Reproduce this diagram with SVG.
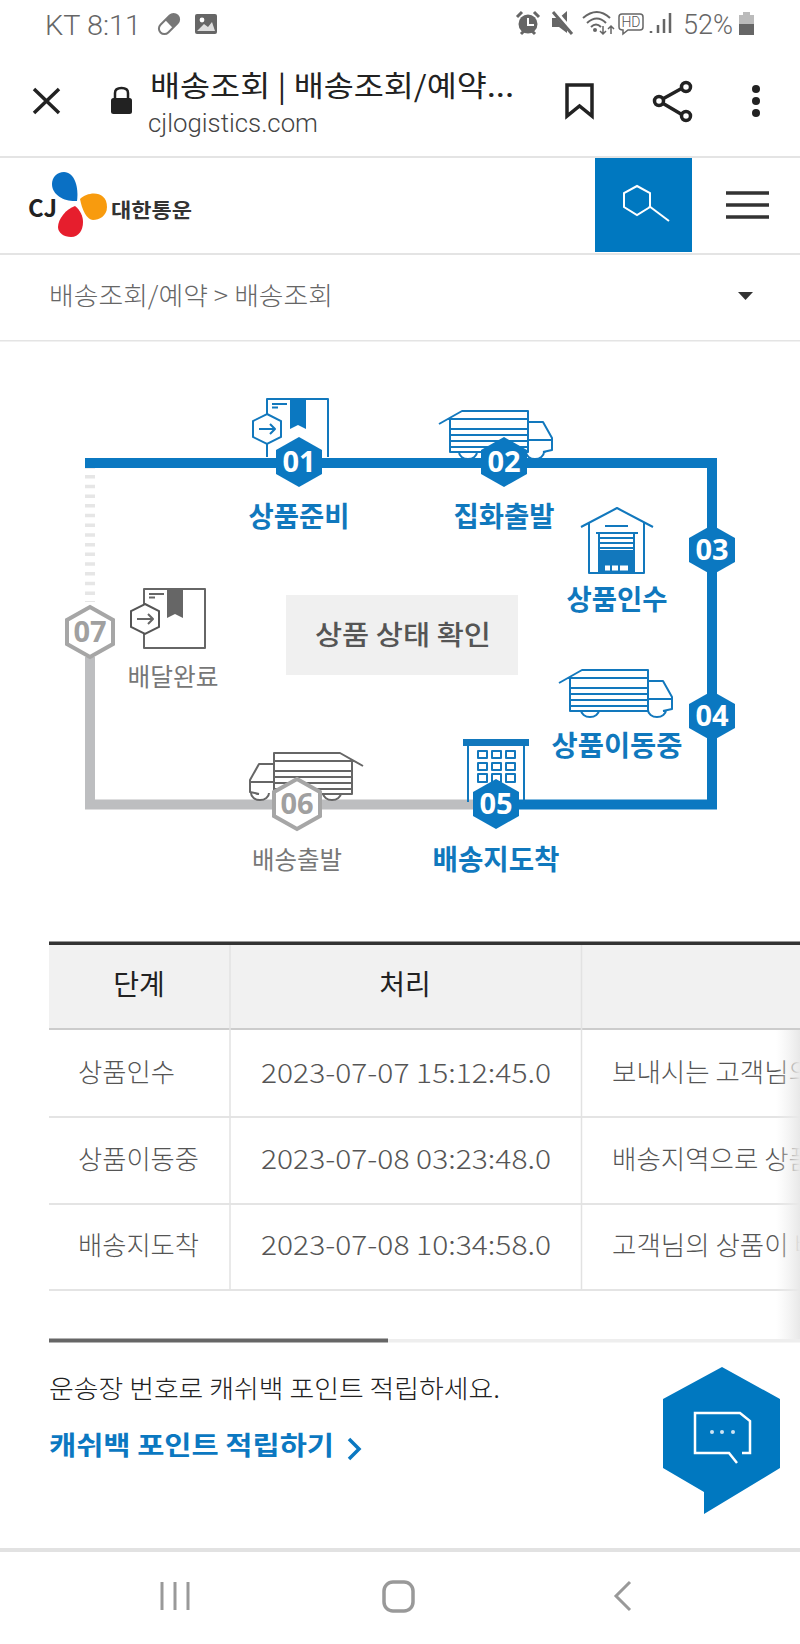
<svg xmlns="http://www.w3.org/2000/svg" width="800" height="1644" viewBox="0 0 800 1644">
<style>
text{font-family:"Noto Sans CJK KR","Noto Sans",sans-serif}
.r{font-family:Roboto,"Noto Sans CJK KR",sans-serif;font-weight:300}
.lb{font-size:28px;font-weight:700;fill:#1078bd;text-anchor:middle}
.lg{font-size:25px;font-weight:400;fill:#777;text-anchor:middle}
.hn{font-family:"Noto Sans",Roboto,sans-serif;font-size:29px;font-weight:700;fill:#fff;text-anchor:middle}
.hb{fill:#0b78c1}
.hw{fill:#fff;stroke:#a6a6a6;stroke-width:4}
.ib{fill:none;stroke:#1278bd;stroke-width:2;stroke-linejoin:round}
.ig{fill:none;stroke:#666;stroke-width:2;stroke-linejoin:round}
.div{fill:#e4e4e4}
.td{font-size:25.5px;font-weight:300;fill:#555}
.tl{font-size:26.5px;font-weight:300;fill:#555}
.th{font-size:28px;font-weight:400;fill:#222;text-anchor:middle}
.dt{font-size:27px;font-weight:300;fill:#555}
</style>
<defs>
<polygon id="hex" points="0,-25 23,-12 23,12 0,25 -23,12 -23,-12"/>
<polygon id="hex-s" points="0,-15 14,-8 14,8 0,15 -14,8 -14,-8"/>
<linearGradient id="fade" x1="0" x2="1" y1="0" y2="0"><stop offset="0" stop-color="#eee" stop-opacity="0"/><stop offset="1" stop-color="#e8e8e8"/></linearGradient>
<clipPath id="tc"><rect x="581" y="1030" width="219" height="262"/></clipPath>
<path id="truck" d="M-51,13 L-28,0 H38 V41 H-40 V7 M-40,18 H38 M-40,24 H38 M-40,30 H38 M-40,36 H38 M-40,8 H38 M38,11 H53 L62,27 V39 L53,41 M38,29 H62 M-40,41 H-28 M-12,41 H38 M53,41 H56"/>
</defs>
<rect width="800" height="1644" fill="#fff"/>

<g id="status-bar">
<text class="r" x="45" y="35" font-size="27" fill="#666" textLength="96" lengthAdjust="spacingAndGlyphs">KT 8:11</text>
<g transform="rotate(-45 169 24)"><rect x="157" y="18.500" width="24" height="11" rx="5.500" fill="#fff" stroke="#777" stroke-width="2"/><path d="M169,18.500 H175.500 A5.500,5.500 0 0 1 175.500,29.500 H169 Z" fill="#777"/></g>
<rect x="195" y="14" width="22" height="20" rx="2" fill="#666"/>
<circle cx="202" cy="20" r="2.400" fill="#fff"/><path d="M197,31 L204,24 L208,27 L212,22 L215,31 Z" fill="#ddd"/>
<circle cx="528" cy="24" r="9.500" fill="#666"/><path d="M517,17 L522,12 M539,17 L534,12 M521,34 L524,31 M535,34 L532,31" stroke="#666" stroke-width="3"/><path d="M528,18 V25 H534" stroke="#fff" stroke-width="2" fill="none"/>
<path d="M552,18 H559 L567,11 V33 L559,27 H552 Z" fill="#666"/><path d="M555,12 L574,34" stroke="#fff" stroke-width="5"/><path d="M553,12 L572,34" stroke="#666" stroke-width="3"/>
<path d="M583,18 Q597,6 610,18 M587,23 Q597,14 606,23 M591,27 Q596,22 601,27" fill="none" stroke="#666" stroke-width="2"/><circle cx="595" cy="30" r="2" fill="#666"/>
<path d="M603,26 V34 M600,31 L603,34 L606,31 M611,34 V26 M608,29 L611,26 L614,29" fill="none" stroke="#666" stroke-width="1.500"/>
<path d="M622,14 H640 Q643,14 643,17 V27 Q643,30 640,30 H628 L623,34 V30 Q619,30 619,27 V17 Q619,14 622,14 Z" fill="none" stroke="#666" stroke-width="1.500"/>
<text class="r" x="631" y="27" font-size="14" font-weight="500" fill="#555" text-anchor="middle">HD</text>
<path d="M651,31 V33 M658,25 V33 M664,19 V33 M670,13 V33" stroke="#666" stroke-width="2.500"/>
<text class="r" x="683" y="34" font-size="27" fill="#666" textLength="50" lengthAdjust="spacingAndGlyphs">52%</text>
<rect x="743" y="12" width="7" height="3" fill="#bbb"/><rect x="739" y="15" width="15" height="9" fill="#bbb"/><rect x="739" y="24" width="15" height="11" fill="#666"/>
</g>

<g id="browser-bar">
<path d="M34,89 L59,113 M59,89 L34,113" stroke="#222" stroke-width="3.500" fill="none"/>
<rect x="111" y="98" width="21" height="16" rx="2.500" fill="#222"/><path d="M115,98 V93 Q115,88 121.500,88 Q128,88 128,93 V98" fill="none" stroke="#222" stroke-width="2.500"/>
<text x="150" y="97" font-size="29" font-weight="400" fill="#222" textLength="364" lengthAdjust="spacingAndGlyphs">배송조회 | 배송조회/예약...</text>
<text class="r" x="148" y="132" font-size="26" font-weight="400" fill="#444" textLength="170" lengthAdjust="spacingAndGlyphs">cjlogistics.com</text>
<path d="M567,85 H592 V116 L579.500,106 L567,116 Z" fill="none" stroke="#222" stroke-width="3.500"/>
<path d="M686,86 L659,101 L686,117" fill="none" stroke="#222" stroke-width="3.500"/>
<circle cx="686" cy="87" r="4.500" fill="#fff" stroke="#222" stroke-width="3.500"/><circle cx="659" cy="101" r="4.500" fill="#fff" stroke="#222" stroke-width="3.500"/><circle cx="686" cy="116" r="4.500" fill="#fff" stroke="#222" stroke-width="3.500"/>
<circle cx="756" cy="89" r="4" fill="#222"/><circle cx="756" cy="101" r="4" fill="#222"/><circle cx="756" cy="113" r="4" fill="#222"/>
<rect class="div" y="156" width="800" height="2"/>
</g>

<g id="site-header">
<path d="M64,172 C74,172 79,186 77,201 C66,202 52,196 52,184 C52,177 57,172 64,172 Z" fill="#0a70c4"/>
<path d="M80,199 C88,191 107,190 107,207 C107,216 99,220 93,220 C87,220 82,210 80,199 Z" fill="#f89b0e"/>
<path d="M75,206 C66,209 58,219 58,227 C58,233 64,237 71,237 C79,237 83,230 83,222 C83,216 80,210 75,206 Z" fill="#e61e2d"/>
<text x="28" y="217" font-size="24" font-weight="700" fill="#222" textLength="29" lengthAdjust="spacingAndGlyphs">CJ</text>
<text x="111" y="218" font-size="20" font-weight="700" fill="#333" textLength="81" lengthAdjust="spacingAndGlyphs">대한통운</text>
<rect x="595" y="158" width="97" height="94" fill="#0078c0"/>
<polygon points="637,186 650,193 650,207 637,215 624,207 624,193" fill="none" stroke="#fff" stroke-width="2"/>
<path d="M649,206 L669,221" stroke="#fff" stroke-width="2"/>
<path d="M726,193 H769 M726,205 H769 M726,217 H769" stroke="#333" stroke-width="3.500"/>
<rect class="div" y="253" width="800" height="2"/>
<text x="49" y="305" font-size="25.500" font-weight="300" fill="#666" textLength="284" lengthAdjust="spacingAndGlyphs">배송조회/예약 &gt; 배송조회</text>
<polygon points="738,292 753,292 745.500,300" fill="#333"/>
<rect class="div" y="340" width="800" height="1.500"/>
</g>

<g id="connectors">
<path d="M90,463 V602" stroke="#e6e6e6" stroke-width="10" stroke-dasharray="3.500 6.200" stroke-dashoffset="-12" fill="none"/>
<path d="M90,657 V804.500 H496" stroke="#bdbec0" stroke-width="10" fill="none"/>
<path d="M496,804.500 H712 V463 H85" stroke="#0b78c1" stroke-width="10" fill="none"/>
</g>

<g id="node-01">
<path class="ib" d="M267,457 V399 H328 V457"/>
<polygon points="290,399 306,399 306,429 298,425 290,429" fill="#0b78c1"/>
<path class="ib" d="M272,404 H287 M272,407.500 H278"/>
<use href="#hex-s" transform="translate(267,429)" fill="#fff" stroke="#1278bd" stroke-width="2"/>
<path class="ib" d="M259,429 H275 M270,424 L275,429 L270,434"/>
<use href="#hex" transform="translate(299,462)" class="hb"/>
<text class="hn" x="299" y="472">01</text>
<text class="lb" x="299" y="527" textLength="101" lengthAdjust="spacingAndGlyphs">상품준비</text>
</g>

<g id="node-02">
<use href="#truck" transform="translate(490,411)" class="ib"/>
<path class="ib" d="M459,452 a9,7 0 0 0 18,0 M526,452 a9,7 0 0 0 18,0"/>
<use href="#hex" transform="translate(504,462)" class="hb"/>
<text class="hn" x="504" y="472">02</text>
<text class="lb" x="504" y="527" textLength="101" lengthAdjust="spacingAndGlyphs">집화출발</text>
</g>

<g id="node-03">
<path class="ib" d="M581,527 L617,508 L653,527 M589,523 V573 H644 V523 M605,526 H628 M596,533 H638"/>
<rect x="599" y="533" width="35" height="40" fill="#fff" stroke="#1278bd" stroke-width="2"/>
<path class="ib" d="M599,538 H634 M599,543 H634 M599,548 H634"/>
<rect x="599" y="550" width="35" height="23" fill="#1278bd"/>
<path d="M605,568 H610 M612,568 H618 M620,568 H628" stroke="#fff" stroke-width="5"/>
<text class="lb" x="617" y="610" textLength="101" lengthAdjust="spacingAndGlyphs">상품인수</text>
<use href="#hex" transform="translate(712,550)" class="hb"/>
<text class="hn" x="712" y="560">03</text>
</g>

<g id="node-04">
<use href="#truck" transform="translate(610,670)" class="ib"/>
<path class="ib" d="M581,710 a9,7 0 0 0 18,0 M648,710 a9,7 0 0 0 18,0"/>
<text class="lb" x="617" y="756" textLength="131" lengthAdjust="spacingAndGlyphs">상품이동중</text>
<use href="#hex" transform="translate(712,716)" class="hb"/>
<text class="hn" x="712" y="726">04</text>
</g>

<g id="node-05">
<rect x="463" y="739" width="66" height="7" fill="#1278bd"/>
<path class="ib" d="M468,746 V802 M524,746 V802"/>
<g class="ib"><rect x="478" y="751" width="9" height="7"/><rect x="492" y="751" width="9" height="7"/><rect x="506" y="751" width="9" height="7"/><rect x="478" y="763" width="9" height="7"/><rect x="492" y="763" width="9" height="7"/><rect x="506" y="763" width="9" height="7"/><rect x="478" y="774" width="9" height="8"/><rect x="492" y="774" width="9" height="8"/><rect x="506" y="774" width="9" height="8"/></g>
<use href="#hex" transform="translate(496,804)" class="hb"/>
<text class="hn" x="496" y="814">05</text>
<text class="lb" x="496" y="870" textLength="127" lengthAdjust="spacingAndGlyphs">배송지도착</text>
</g>

<g id="node-06">
<use href="#truck" transform="translate(312,753) scale(-1,1)" class="ig"/>
<path class="ig" d="M251,793 a9,7 0 0 0 18,0 M323,793 a9,7 0 0 0 18,0"/>
<use href="#hex" transform="translate(297,804)" class="hw"/>
<text class="hn" x="297" y="814" style="fill:#a0a0a0">06</text>
<text class="lg" x="297" y="869" textLength="90" lengthAdjust="spacingAndGlyphs">배송출발</text>
</g>

<g id="node-07">
<path class="ig" d="M144,605 V589 H205 V648 H144 V633"/>
<polygon points="167,589 183,589 183,618 175,614 167,618" fill="#666"/>
<path class="ig" d="M149,594 H164 M149,597.500 H155"/>
<use href="#hex-s" transform="translate(145,619)" fill="#fff" stroke="#555" stroke-width="2"/>
<path class="ig" d="M137,619 H153 M148,614 L153,619 L148,624"/>
<use href="#hex" transform="translate(90,632)" class="hw"/>
<text class="hn" x="90" y="642" style="fill:#a0a0a0">07</text>
<text class="lg" x="173" y="686" textLength="91" lengthAdjust="spacingAndGlyphs">배달완료</text>
</g>

<g id="status-title">
<rect x="286" y="595" width="232" height="80" fill="#f0f0f0"/>
<text x="403" y="645" font-size="27" font-weight="500" fill="#555" text-anchor="middle" textLength="176" lengthAdjust="spacingAndGlyphs">상품 상태 확인</text>
</g>

<g id="table">
<rect x="49" y="945" width="751" height="84" fill="#f1f1f1"/>
<rect x="49" y="941.500" width="751" height="3.500" fill="#333"/>
<rect x="49" y="1028" width="751" height="2" fill="#ccc"/>
<path d="M49,1117 H800 M49,1204 H800 M49,1290 H800" stroke="#e4e4e4" stroke-width="2"/>
<path d="M230,945 V1290 M581.500,945 V1290" stroke="#e2e2e2" stroke-width="1.500"/>
<text class="th" x="139" y="995">단계</text>
<text class="th" x="405" y="995">처리</text>
<text class="tl" x="78" y="1082" textLength="97" lengthAdjust="spacingAndGlyphs">상품인수</text>
<text class="tl" x="78" y="1169" textLength="121" lengthAdjust="spacingAndGlyphs">상품이동중</text>
<text class="tl" x="78" y="1255" textLength="121" lengthAdjust="spacingAndGlyphs">배송지도착</text>
<text class="dt" x="261" y="1083" textLength="290" lengthAdjust="spacingAndGlyphs">2023-07-07 15:12:45.0</text>
<text class="dt" x="261" y="1169" textLength="290" lengthAdjust="spacingAndGlyphs">2023-07-08 03:23:48.0</text>
<text class="dt" x="261" y="1255" textLength="290" lengthAdjust="spacingAndGlyphs">2023-07-08 10:34:58.0</text>
<g clip-path="url(#tc)">
<text class="tl" x="612" y="1082">보내시는 고객님의</text>
<text class="tl" x="612" y="1169">배송지역으로 상품</text>
<text class="tl" x="612" y="1255">고객님의 상품이 배</text>
</g>
<rect x="776" y="1030" width="24" height="310" fill="url(#fade)"/>
<rect x="388" y="1339" width="412" height="3.500" fill="#eee"/>
<rect x="49" y="1338.500" width="339" height="4" fill="#666"/>
</g>

<g id="footer">
<text x="49" y="1398" font-size="25.500" font-weight="300" fill="#222" textLength="451" lengthAdjust="spacingAndGlyphs">운송장 번호로 캐쉬백 포인트 적립하세요.</text>
<text x="49" y="1455" font-size="26" font-weight="700" fill="#0b78c1" textLength="285" lengthAdjust="spacingAndGlyphs">캐쉬백 포인트 적립하기</text>
<path d="M349,1439 L359,1449 L349,1459" fill="none" stroke="#0b78c1" stroke-width="3.500"/>
</g>

<g id="chat-button">
<polygon points="722,1367 780,1399 780,1468 704,1514 704,1492 663,1468 663,1399" fill="#0078c0"/>
<path d="M722,1453 H695 V1413 H740 L750,1421 V1453 H742" fill="none" stroke="#fff" stroke-width="2.500"/>
<path d="M722,1453 H729 L737,1463" fill="none" stroke="#fff" stroke-width="2.500"/>
<circle cx="712" cy="1432" r="2" fill="#cfe4f3"/><circle cx="722" cy="1432" r="2" fill="#cfe4f3"/><circle cx="733" cy="1432" r="2" fill="#cfe4f3"/>
</g>

<g id="nav-bar">
<rect y="1548" width="800" height="4" fill="#e2e2e2"/>
<path d="M162,1582 V1610 M175,1582 V1610 M188,1582 V1610" stroke="#999" stroke-width="3"/>
<rect x="384" y="1582" width="29" height="29" rx="9" fill="none" stroke="#999" stroke-width="3.500"/>
<path d="M630,1582 L616,1596 L630,1610" fill="none" stroke="#999" stroke-width="3"/>
</g>
</svg>
